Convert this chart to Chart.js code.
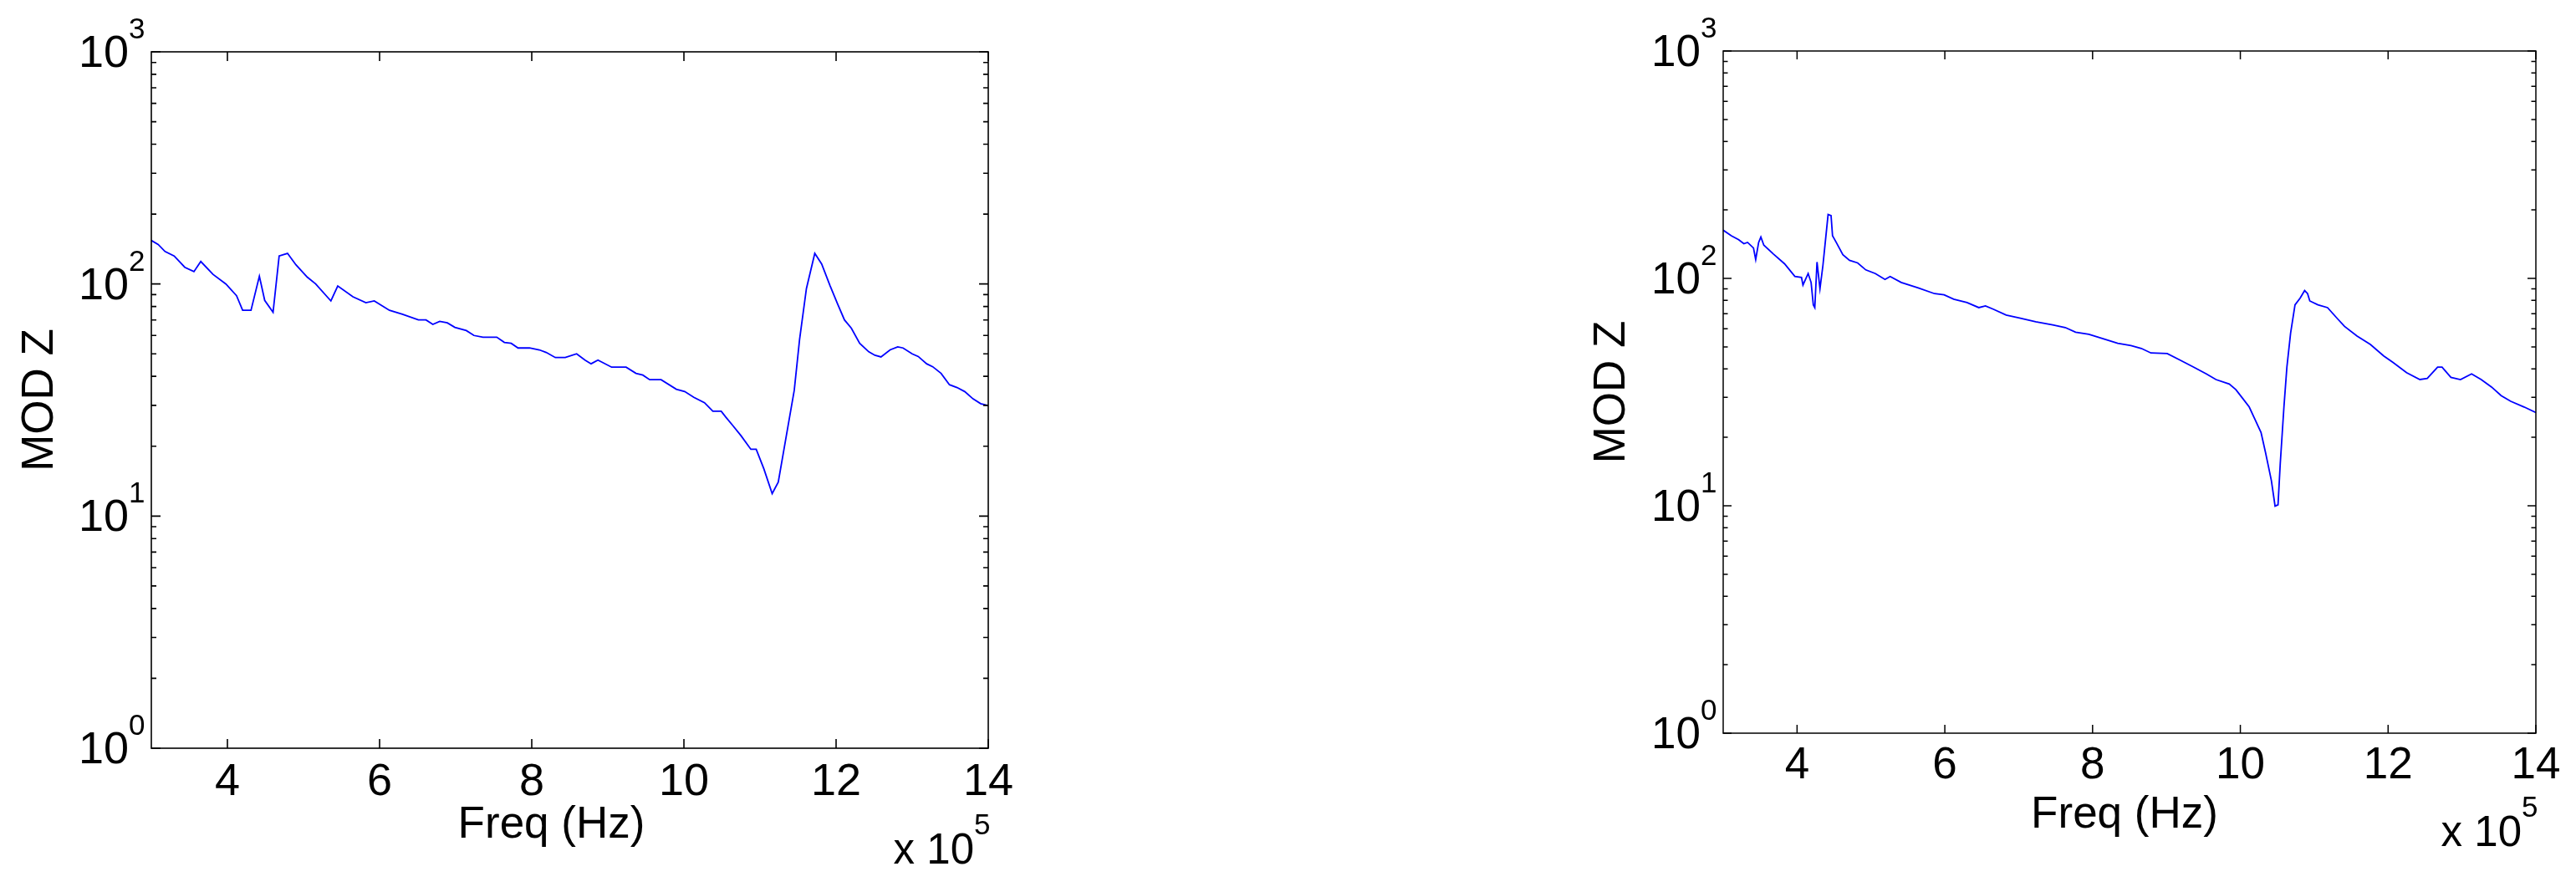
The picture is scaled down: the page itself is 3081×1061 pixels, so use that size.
<!DOCTYPE html>
<html>
<head>
<meta charset="utf-8">
<script src="https://cdn.jsdelivr.net/npm/chart.js@4.4.1/dist/chart.umd.min.js"></script>
<style>
  html, body { margin: 0; padding: 0; background: #fff; overflow: hidden; }
  .panel { position: absolute; top: 0; height: 1061px; }
  #panelA { left: 0; width: 1540px; }
  #panelB { left: 1540px; width: 1541px; }
</style>
</head>
<body>
<div class="panel" id="panelA"><canvas id="chartA" width="1540" height="1061"></canvas></div>
<div class="panel" id="panelB"><canvas id="chartB" width="1541" height="1061"></canvas></div>
<script>
// frequencies are in units of 1e5 Hz (the axis shows "x 10^5")
const freqA = [3.0, 3.09, 3.18, 3.30, 3.44, 3.56, 3.65, 3.81, 3.98, 4.12, 4.20, 4.31, 4.42, 4.49, 4.60, 4.68, 4.79, 4.90,
  5.05, 5.16, 5.36, 5.45, 5.65, 5.82, 5.93, 6.13, 6.30, 6.51, 6.61, 6.70, 6.79, 6.89, 6.99, 7.14, 7.24, 7.36, 7.54, 7.64,
  7.73, 7.82, 7.97, 8.10, 8.19, 8.31, 8.44, 8.59, 8.70, 8.78, 8.87, 9.05, 9.24, 9.37, 9.46, 9.55, 9.70, 9.90, 10.01, 10.13,
  10.27, 10.38, 10.49, 10.55, 10.64, 10.75, 10.88, 10.95, 11.05, 11.16, 11.24, 11.34, 11.45, 11.52, 11.61, 11.72, 11.81,
  11.92, 12.02, 12.11, 12.20, 12.31, 12.43, 12.51, 12.59, 12.71, 12.81, 12.88, 13.0, 13.08, 13.19, 13.27, 13.38, 13.49,
  13.59, 13.69, 13.80, 13.90, 14.0];
const modZA = [154, 148, 138, 132, 118, 113, 125, 110, 100, 89, 77, 77, 108, 85, 75.5, 132, 135.5, 121,
  107, 100, 84.5, 98, 88, 83, 84.5, 77, 74, 70, 70, 67, 69, 68, 65, 63, 60, 59, 59, 56,
  55.5, 53, 53, 52, 50.7, 48.2, 48.2, 50, 47, 45.3, 47, 43.8, 43.8, 41.2, 40.5, 38.7, 38.7, 35.2, 34.4, 32.5,
  30.8, 28.3, 28.3, 26.7, 24.6, 22.2, 19.4, 19.4, 16.0, 12.5, 14.0, 21.6, 34.8, 57.6, 95.5, 135.5, 122,
  98.4, 82, 70, 64.5, 55.5, 51, 49.3, 48.5, 52, 53.6, 53, 50, 48.7, 45.3, 44, 41.2, 36.8,
  35.8, 34.4, 32, 30.5, 29.9];

const freqB = [3.0, 3.11, 3.21, 3.28, 3.33, 3.41, 3.44, 3.48, 3.51, 3.55, 3.68, 3.83, 3.97, 4.06, 4.08, 4.15, 4.19, 4.22,
  4.24, 4.27, 4.31, 4.35, 4.37, 4.42, 4.46, 4.48, 4.53, 4.62, 4.71, 4.82, 4.93, 5.06, 5.19, 5.26, 5.41, 5.64, 5.86, 5.99,
  6.12, 6.30, 6.46, 6.55, 6.66, 6.83, 7.01, 7.23, 7.46, 7.63, 7.77, 7.95, 8.15, 8.34, 8.52, 8.66, 8.79, 9.01, 9.19, 9.37,
  9.54, 9.67, 9.85, 9.94, 10.03, 10.12, 10.19, 10.28, 10.34, 10.38, 10.42, 10.47, 10.51, 10.54, 10.59, 10.63, 10.68,
  10.74, 10.81, 10.87, 10.91, 10.94, 11.05, 11.18, 11.32, 11.41, 11.58, 11.76, 11.94, 12.07, 12.25, 12.43, 12.53, 12.67,
  12.73, 12.85, 12.98, 13.13, 13.26, 13.40, 13.53, 13.66, 13.84, 14.0];
const modZB = [163, 154, 148, 142, 144, 136, 121, 144, 152, 140, 128, 116, 102, 101, 93.5, 105, 96, 76.5,
  74.4, 118, 90, 114, 132, 191, 189, 154, 144, 127, 120, 117, 109, 105, 99, 102, 96, 90.8, 85.7, 84.7,
  81, 78.3, 74.4, 75.7, 73.1, 69, 67, 64.4, 62.5, 60.8, 58, 56.8, 54.2, 51.8, 50.6, 49.2, 47, 46.7, 43.6, 40.7,
  38, 35.9, 34.3, 32.4, 29.7, 27.2, 24.3, 21, 17.2, 14.9, 12.9, 9.97, 10.1, 15.3, 27.2, 40.7, 57.4,
  76.5, 82, 88.4, 85.7, 79.6, 76.5, 74.4, 66.2, 61.5, 55.8, 51.2, 45.6, 42.6, 38.5, 35.9, 36.3, 40.7,
  40.7, 36.7, 35.9, 38, 35.9, 33.3, 30.5, 28.8, 27.2, 25.7];

const xTickValues = [4, 6, 8, 10, 12, 14];
const xTickLabels = ['4', '6', '8', '10', '12', '14'];
const yDecades = [1, 10, 100, 1000];
const yExponents = ['0', '1', '2', '3'];
const xAxisLabel = 'Freq (Hz)';
const yAxisLabel = 'MOD Z';
const xMultiplier = ['x 10', '5'];

const FONT = '"Liberation Sans", Arial, Helvetica, sans-serif';

// matlab-style box: inward ticks on all four sides, 10^n labels
const matlabAxes = {
  id: 'matlabAxes',
  afterDatasetsDraw(chart, args, o) {
    const { ctx, chartArea: a } = chart;
    const x = chart.scales.x, y = chart.scales.y;
    ctx.save();
    ctx.strokeStyle = '#000';
    ctx.lineWidth = o.lineWidth;
    ctx.strokeRect(a.left, a.top, a.right - a.left, a.bottom - a.top);

    ctx.beginPath();
    xTickValues.forEach(v => {
      const px = x.getPixelForValue(v);
      ctx.moveTo(px, a.bottom); ctx.lineTo(px, a.bottom - o.major);
      ctx.moveTo(px, a.top); ctx.lineTo(px, a.top + o.major);
    });
    yDecades.forEach((d, i) => {
      const py = y.getPixelForValue(d);
      ctx.moveTo(a.left, py); ctx.lineTo(a.left + o.major, py);
      ctx.moveTo(a.right, py); ctx.lineTo(a.right - o.major, py);
      if (i < yDecades.length - 1) {
        for (let m = 2; m <= 9; m++) {
          const pm = y.getPixelForValue(d * m);
          ctx.moveTo(a.left, pm); ctx.lineTo(a.left + o.minor, pm);
          ctx.moveTo(a.right, pm); ctx.lineTo(a.right - o.minor, pm);
        }
      }
    });
    ctx.stroke();

    ctx.fillStyle = '#000';
    ctx.textBaseline = 'alphabetic';
    // y tick labels 10^n
    yDecades.forEach((d, i) => {
      const py = y.getPixelForValue(d);
      ctx.font = o.tickSize + 'px ' + FONT;
      ctx.textAlign = 'right';
      ctx.fillText('10', a.left - 27, py + 18);
      ctx.font = o.expSize + 'px ' + FONT;
      ctx.textAlign = 'left';
      ctx.fillText(yExponents[i], a.left - 27, py - 16);
    });
    // x tick labels
    ctx.font = o.tickSize + 'px ' + FONT;
    ctx.textAlign = 'center';
    xTickValues.forEach((v, i) => {
      ctx.fillText(xTickLabels[i], x.getPixelForValue(v), a.bottom + o.xTickBase);
    });
    // x 10^5
    ctx.font = o.multSize + 'px ' + FONT;
    ctx.textAlign = 'right';
    ctx.fillText(xMultiplier[0], a.right - 17, a.bottom + o.multBase);
    ctx.font = o.expSize + 'px ' + FONT;
    ctx.textAlign = 'left';
    ctx.fillText(xMultiplier[1], a.right - 17, a.bottom + o.multBase - 35);
    // axis titles
    ctx.font = o.labelSize + 'px ' + FONT;
    ctx.textAlign = 'center';
    ctx.fillText(xAxisLabel, (a.left + a.right) / 2 + o.xLabelShift, a.bottom + o.xLabelBase);
    ctx.translate(a.left - 118, (a.top + a.bottom) / 2);
    ctx.rotate(-Math.PI / 2);
    ctx.fillText(yAxisLabel, 0, 0);
    ctx.restore();
  }
};

function makeChart(id, freq, modZ, padding, axesOpts) {
  const pts = freq.map((f, i) => ({ x: f, y: modZ[i] }));
  return new Chart(document.getElementById(id), {
    type: 'line',
    data: {
      datasets: [{
        data: pts,
        borderColor: '#0000ff',
        borderWidth: 1.8,
        pointRadius: 0,
        tension: 0,
        fill: false
      }]
    },
    options: {
      responsive: false,
      animation: false,
      devicePixelRatio: 1,
      layout: { padding: padding },
      scales: {
        x: { type: 'linear', min: 3, max: 14, display: false },
        y: { type: 'logarithmic', min: 1, max: 1000, display: false }
      },
      plugins: {
        legend: { display: false },
        tooltip: { enabled: false },
        matlabAxes: axesOpts
      }
    },
    plugins: [matlabAxes]
  });
}

makeChart('chartA', freqA, modZA,
  { left: 181, top: 62, right: 1540 - 1182, bottom: 1061 - 895 },
  { lineWidth: 1.6, major: 11, minor: 6, tickSize: 54, expSize: 35, multSize: 51, labelSize: 53,
    xTickBase: 56, multBase: 138, xLabelBase: 107, xLabelShift: -22 });

makeChart('chartB', freqB, modZB,
  { left: 2061 - 1540, top: 61, right: 3081 - 3033, bottom: 1061 - 877 },
  { lineWidth: 1.5, major: 10, minor: 5.5, tickSize: 53, expSize: 35, multSize: 51, labelSize: 53,
    xTickBase: 54, multBase: 135, xLabelBase: 113, xLabelShift: -6 });
</script>
</body>
</html>
